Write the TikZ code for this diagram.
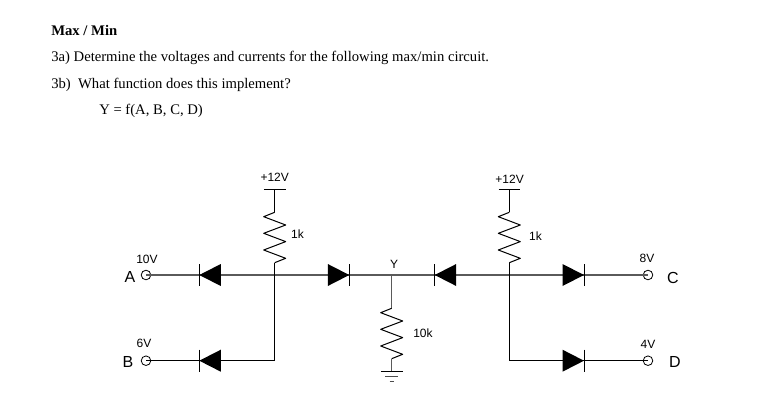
\documentclass[tikz,border=0pt]{standalone}
\usepackage{fontspec}
\setmainfont{Liberation Serif}
\newfontfamily\lbl{Liberation Sans}
\definecolor{wiregray}{HTML}{5A5A5A}
\tikzset{
  x=0.75pt,y=-0.75pt,
  txt/.style={anchor=base west,inner sep=0pt,font=\fontsize{11}{13}\selectfont},
  small/.style={inner sep=0pt,font=\lbl\fontsize{9}{11}\selectfont},
  big/.style={inner sep=0pt,font=\lbl\fontsize{12}{14}\selectfont},
  term/.style={circle,draw,line width=0.6pt,minimum size=7.2pt,inner sep=0pt},
  wire/.style={line width=0.75pt,black},
  bus/.style={line width=1.05pt,wiregray},
  pics/dright/.style={code={
    \fill[black] (-21.5,-11) -- (0,0) -- (-21.5,11) -- cycle;
    \draw[line width=0.75pt] (0,-11) -- (0,11);}},
  pics/dleft/.style={code={
    \fill[black] (21.5,-11) -- (0,0) -- (21.5,11) -- cycle;
    \draw[line width=0.75pt] (0,-11) -- (0,11);}},
  pics/res/.style={code={
    \draw[line width=0.75pt,line join=round] (0,0) -- (-11,4.4) -- (11,12.7) -- (-11,21) -- (11,29.3)
      -- (-11,37.7) -- (11,46) -- (0,50.4);}},
}
\begin{document}
\begin{tikzpicture}
\useasboundingbox (0,0) rectangle (769,412);
% heading text
\node[txt,font=\bfseries\fontsize{11}{13}\selectfont] (title) at (51,35) {Max / Min};
\node[txt] (qa) at (51,61.5) {3a) Determine the voltages and currents for the following max/min circuit.};
\node[txt] (qb) at (51,88) {3b)\ \ What function does this implement?};
\node[txt] (fn) at (99,114.5) {Y = f(A, B, C, D)};
% terminals
\node[term] (A) at (146,275) {};
\node[term] (B) at (146,360.7) {};
\node[term] (C) at (648,275) {};
\node[term] (D) at (648,360.7) {};
% junctions and rails
\coordinate (jl) at (274.7,275);
\coordinate (jb) at (274.7,360.7);
\coordinate (jr) at (509.3,275);
\coordinate (jd) at (509.3,360.7);
\coordinate (y) at (391.7,275);
\coordinate (vl) at (274.7,189);
\coordinate (vr) at (509.3,189);
\coordinate (rl) at (274.7,212.3);
\coordinate (rlb) at (274.7,262.7);
\coordinate (rr) at (509.3,212.3);
\coordinate (rrb) at (509.3,262.7);
\coordinate (ry) at (391.7,308.3);
\coordinate (ryb) at (391.7,358.7);
\coordinate (gnd) at (391.7,371);
% wires
\draw[bus] (A.center) -- (jl);
\draw[bus] (jl) -- (jr);
\draw[bus] (jr) -- (C.center);
\draw[wire] (B.center) -- (jb) -- (rlb);
\draw[wire] (rl) -- (vl);
\draw[wire] (D.center) -- (jd) -- (rrb);
\draw[wire] (rr) -- (vr);
\draw[bus] (y) -- (ry);
\draw[bus] (ryb) -- (gnd);
% resistors
\pic at (rl) {res};
\pic at (rr) {res};
\pic at (ry) {res};
% diodes
\pic at (199.3,275) {dleft};
\pic at (199.3,360.7) {dleft};
\pic at (349.3,275) {dright};
\pic at (434.7,275) {dleft};
\pic at (584,275) {dright};
\pic at (584,360.7) {dright};
% supply and ground bars
\draw[wire] ([xshift=-8.1pt]vl) -- ([xshift=8.1pt]vl);
\draw[wire] ([xshift=-8.1pt]vr) -- ([xshift=8.1pt]vr);
\draw[wire] ([xshift=-8.1pt]gnd) -- ([xshift=8.1pt]gnd);
\draw[line width=0.75pt,black!70] ([xshift=-5pt,yshift=-4pt]gnd) -- ([xshift=5pt,yshift=-4pt]gnd);
\draw[line width=0.75pt,black!70] ([xshift=-1.6pt,yshift=-8pt]gnd) -- ([xshift=1.6pt,yshift=-8pt]gnd);
% labels
\node[small] (l12a) at (274.7,177) {+12V};
\node[small] (l12b) at (509.6,179) {+12V};
\node[small] (l1ka) at (297.5,234) {1k};
\node[small] (l1kb) at (535.5,236) {1k};
\node[small] (l10k) at (423,333) {10k};
\node[small] (lY) at (394,264.5) {Y};
\node[small] (l10v) at (147,259) {10V};
\node[small] (l6v) at (144,343) {6V};
\node[small] (l8v) at (647,258) {8V};
\node[small] (l4v) at (648,344) {4V};
\node[big] (lA) at (130,277) {A};
\node[big] (lB) at (128,362) {B};
\node[big] (lC) at (673,278) {C};
\node[big] (lD) at (675,362) {D};
\end{tikzpicture}
\end{document}
